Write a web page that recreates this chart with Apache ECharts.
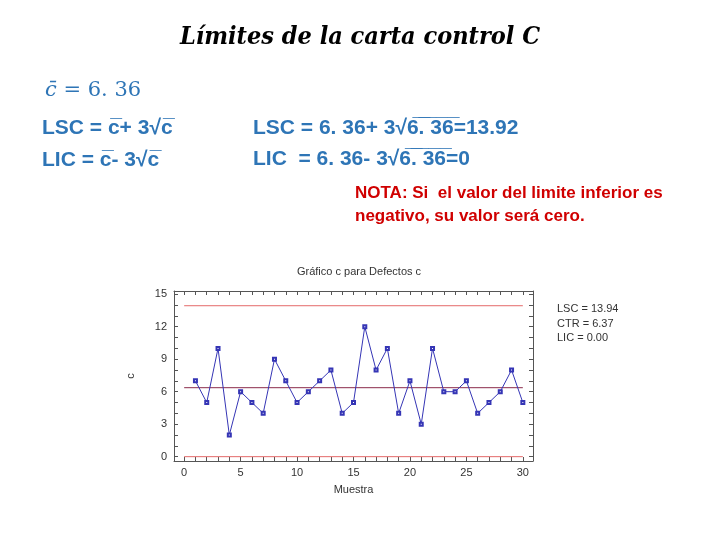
<!DOCTYPE html>
<html><head><meta charset="utf-8">
<script src="https://cdn.jsdelivr.net/npm/echarts@6/dist/echarts.min.js"></script>
<style>html,body{margin:0;padding:0;background:#fff}#c{width:720px;height:540px}</style>
</head><body><div id="c"></div>
<script>
// ---- data ----
const samples = [1,2,3,4,5,6,7,8,9,10,11,12,13,14,15,16,17,18,19,20,21,22,23,24,25,26,27,28,29,30];
const defects = [7,5,10,2,6,5,4,9,7,5,6,7,8,4,5,12,8,10,4,7,3,10,6,6,7,4,5,6,8,5];
const limitNames = ['LSC','CTR','LIC'];
const limitValues = [13.94, 6.37, 0.00];
const limitRange = [0, 30];
const xTickLabels = [0,5,10,15,20,25,30];
const yTickLabels = [0,3,6,9,12,15];
const xMinorTicks = samples.concat([0]);
const yMinorTicks = [0,1,2,3,4,5,6,7,8,9,10,11,12,13,14,15];

const chart = echarts.init(document.getElementById('c'), null, {renderer:'canvas'});
const F = 'Liberation Sans, Arial, sans-serif';
const axisCol = '#555';
function xAx(pos, show){
  return {type:'value', position:pos, min:-0.9, max:30.9,
    axisLine:{show:true, onZero:false, lineStyle:{color:axisCol, width:1}},
    axisTick:{show:true, inside:true, length:4, customValues:xMinorTicks, lineStyle:{color:axisCol}},
    axisLabel:{show:show, customValues:xTickLabels, margin:6, color:'#333', fontFamily:F, fontSize:11},
    splitLine:{show:false},
    name: show ? 'Muestra' : '', nameLocation:'middle', nameGap:23,
    nameTextStyle:{color:'#333', fontFamily:F, fontSize:11}};
}
function yAx(pos, show){
  return {type:'value', position:pos, min:-0.4, max:15.3,
    axisLine:{show:true, onZero:false, lineStyle:{color:axisCol, width:1}},
    axisTick:{show:true, inside:true, length:4, customValues:yMinorTicks, lineStyle:{color:axisCol}},
    axisLabel:{show:show, customValues:yTickLabels, margin:7, color:'#333', fontFamily:F, fontSize:11},
    splitLine:{show:false},
    name: show ? 'c' : '', nameLocation:'middle', nameGap:38, nameRotate:90,
    nameTextStyle:{color:'#333', fontFamily:F, fontSize:11}};
}
const limitColors = ['#e46a6a','#8a2a4a','#e46a6a'];
const series = limitValues.map((v,i)=>({
  type:'line', name:limitNames[i], data:limitRange.map(x=>[x,v]),
  symbol:'none', lineStyle:{color:limitColors[i], width:1}, silent:true, z:1
}));
series.push({type:'line', name:'c', data:samples.map((s,i)=>[s,defects[i]]),
  symbol:'emptyRect', symbolSize:3, itemStyle:{color:'#3535b5', borderWidth:1},
  lineStyle:{color:'#3535b5', width:1}, z:3});

const blue = '#2e75b6';
const fBlue = 'bold 21px "Liberation Sans", sans-serif';
const fRed = 'bold 17px "Liberation Sans", sans-serif';
const OL = '\u0305';
function ol(s){ return s.split('').map(ch=>ch+OL).join(''); }
const limitText = limitValues.map((v,i)=>limitNames[i]+' = '+v.toFixed(2));

chart.setOption({
  animation:false,
  grid:{left:174, right:187, top:291, bottom:79},
  title:{text:'Gráfico c para Defectos c', left:354, textAlign:'center', top:261,
    textStyle:{fontFamily:F, fontSize:11, fontWeight:'normal', color:'#333'}},
  xAxis:[xAx('bottom', true), xAx('top', false)],
  yAxis:[yAx('left', true), yAx('right', false)],
  series: series,
  graphic:[
    {type:'text', left:'center', top:25, style:{text:'Límites de la carta control C',
      font:'bold italic 25px "DejaVu Serif Condensed", "DejaVu Serif", serif', fill:'#000'}},
    {type:'text', x:45, y:80, style:{text:'{i|c\u0304} = 6. 36',
      font:'21px "DejaVu Serif", serif', fill:blue,
      rich:{i:{fontStyle:'italic', font:'italic 21px "DejaVu Serif", serif', fill:blue}}}},
    {type:'text', x:42, y:118, style:{text:'LSC = c'+OL+'+ 3√'+ol('c'), font:fBlue, fill:blue}},
    {type:'text', x:42, y:150, style:{text:'LIC = c'+OL+'- 3√'+ol('c'), font:fBlue, fill:blue}},
    {type:'text', x:253, y:118, style:{text:'LSC = 6. 36+ 3√'+ol('6. 36')+'=13.92', font:fBlue, fill:blue}},
    {type:'text', x:253, y:149, style:{text:'LIC  = 6. 36- 3√'+ol('6. 36')+'=0', font:fBlue, fill:blue}},
    {type:'text', x:355, y:185, style:{text:'NOTA: Si  el valor del limite inferior es', font:fRed, fill:'#d00000'}},
    {type:'text', x:355, y:208, style:{text:'negativo, su valor será cero.', font:fRed, fill:'#d00000'}},
    {type:'text', x:557, y:302, style:{text:limitText.join('\n'), font:'11px '+F, fill:'#333', lineHeight:14.5}}
  ]
});
</script></body></html>
